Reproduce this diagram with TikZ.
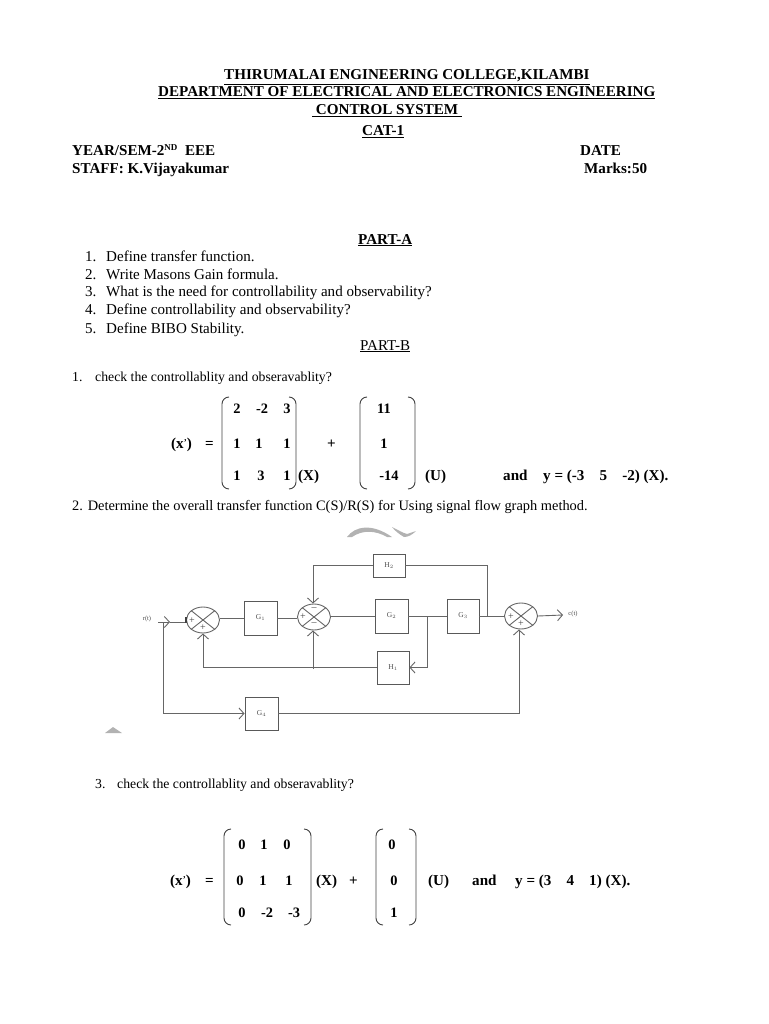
\documentclass[tikz,border=0pt]{standalone}
\usepackage{fontspec}
\setmainfont{Liberation Serif}
\usetikzlibrary{arrows.meta}
\usetikzlibrary{shapes.geometric}
\tikzset{
    head/.style={anchor=base west, inner sep=0pt, font=\fontsize{15.1}{17}\selectfont\bfseries},
    body/.style={anchor=base west, inner sep=0pt, font=\fontsize{15.05}{17}\selectfont},
    small/.style={anchor=base west, inner sep=0pt, font=\fontsize{13.75}{15}\selectfont},
    entry/.style={anchor=base, inner sep=0pt, font=\fontsize{14.4}{16}\selectfont\bfseries},
    bracket/.style={line width=0.9pt, black!75, rounded corners=7pt},
    block/.style={draw=black!65, line width=0.9pt, inner sep=0pt, font=\fontsize{7.5}{8}\selectfont, text=black!70},
    sumj/.style={ellipse, draw=black!60, line width=0.9pt, minimum width=33pt, minimum height=26pt, inner sep=0pt},
    sign/.style={inner sep=0pt, font=\fontsize{10}{10}\selectfont, text=black!75},
    wire/.style={draw=black!60, line width=0.9pt},
    into/.style={wire, -{Straight Barb[length=5pt,width=11pt]}},
    tiny/.style={inner sep=0pt, font=\fontsize{6.5}{7}\selectfont, text=black!70}
}

\begin{document}
\begin{tikzpicture}[x=1pt, y=-1pt]
        \useasboundingbox (0,0) rectangle (768,1024);

        % header
        \node[head] (title1) at (224,80) {\underline{THIRUMALAI ENGINEERING COLLEGE,KILAMBI}};
        \node[head] (title2) at (158,97) {\underline{DEPARTMENT OF ELECTRICAL AND ELECTRONICS ENGINEERING}};
        \node[head] (title3) at (312,115) {\underline{\ CONTROL SYSTEM\ }};
        \node[head] (title4) at (362,136) {\underline{CAT-1}};
        \node[head] (year) at (72,156) {YEAR/SEM-2\raisebox{5pt}{\fontsize{9}{9}\selectfont ND}\ \ EEE};
        \node[head] (staff) at (72,174) {STAFF: K.Vijayakumar};
        \node[head] (date) at (580,156) {DATE};
        \node[head] (marks) at (584,174) {Marks:50};

        % part a
        \node[head] (parta) at (358,244) {\underline{PART-A}};
        \foreach \ty/\num/\txt [count=\i] in {
            261/1./Define transfer function.,
            279/2./Write Masons Gain formula.,
            296/3./What is the need for controllability and observability?,
            314/4./Define controllability and observability?,
            333/5./Define BIBO Stability.}{
            \node[body] (num\i) at (85,\ty) {\num};
            \node[body] (item\i) at (106,\ty) {\txt};
        }

        % part b
        \node[body] (partb) at (360,350) {\underline{PART-B}};
        \node[small] (q1num) at (72,381) {1.};
        \node[small] (q1) at (95,381) {check the controllablity and obseravablity?};
        \node[body, font=\fontsize{14.4}{16}\selectfont] (q2) at (72,510) {2. Determine the overall transfer function C(S)/R(S) for Using signal flow graph method.};
        \node[small] (q3num) at (95,788) {3.};
        \node[small] (q3) at (117,788) {check the controllablity and obseravablity?};

        % matrices
        \foreach \px/\py/\txt [count=\i] in {
            237/413/2, 262/413/-2, 287/413/3, 237/448/1, 259/448/1, 287/448/1,
            237/480/1, 261/480/3, 287/480/1, 384/413/11, 384/448/1, 389/480/-14,
            242/849/0, 264/849/1, 287/849/0, 240/885/0, 263/885/1, 289/885/1,
            242/917/0, 267/917/-2, 294/917/-3, 392/849/0, 394/885/0, 394/917/1}{
            \node[entry] (m\i) at (\px,\py) {\txt};
        }
        \foreach \bx/\tp/\bt/\dir in {
            222/397/489/1, 296/397/489/-1, 360/397/489/1, 415/397/489/-1,
            224/829/925/1, 311/829/925/-1, 376/829/925/1, 416/829/925/-1}{
            \draw[bracket] ({\bx+\dir*7},\tp) -- (\bx,\tp) -- (\bx,\bt) -- ({\bx+\dir*7},\bt);
        }

        \node[head] (xa) at (171,448) {(x\raisebox{3pt}{\fontsize{9}{9}\selectfont '})};
        \node[head] (eqa) at (205,448) {=};
        \node[head] (plusa) at (327,448) {+};
        \node[head] (ua) at (298,480) {(X)};
        \node[head] (va) at (425,480) {(U)};
        \node[head] (anda) at (503,480) {and};
        \node[head] (ya) at (543,480) {y = (-3\ \ \ \ 5\ \ \ \ -2) (X).};
        \node[head] (xb) at (170,885) {(x\raisebox{3pt}{\fontsize{9}{9}\selectfont '})};
        \node[head] (eqb) at (205,885) {=};
        \node[head] (ub) at (316,885) {(X)};
        \node[head] (plusb) at (349,885) {+};
        \node[head] (vb) at (428,885) {(U)};
        \node[head] (andb) at (472,885) {and};
        \node[head] (yb) at (515,885) {y = (3\ \ \ \ 4\ \ \ \ 1) (X).};

        % block diagram
        \node[sumj] (S1) at (203,620) {};
        \node[sumj] (S2) at (314,617) {};
        \node[sumj] (S3) at (521,616) {};
        \node[block, minimum width=33pt, minimum height=34pt] (G1) at (260.5,618) {G$_1$};
        \node[block, minimum width=33pt, minimum height=34pt] (G2) at (391.5,616) {G$_2$};
        \node[block, minimum width=32pt, minimum height=34pt] (G3) at (463,616) {G$_3$};
        \node[block, minimum width=32pt, minimum height=23pt] (H2) at (389,565.5) {H$_2$};
        \node[block, minimum width=32pt, minimum height=33pt] (H1) at (393,667.5) {H$_1$};
        \node[block, minimum width=33pt, minimum height=33pt] (G4) at (261.5,713.5) {G$_4$};

        \foreach \s in {S1,S2,S3}{
            \draw[wire] (\s.north west) -- (\s.south east);
            \draw[wire] (\s.south west) -- (\s.north east);
        }
        \node[sign] (s1a) at (192,621) {+};
        \node[sign] (s1b) at (203,628) {+};
        \node[sign] (s2a) at (303,617) {+};
        \node[sign] (s2b) at (314,609) {--};
        \node[sign] (s2c) at (314,624) {--};
        \node[sign] (s3a) at (511,617) {+};
        \node[sign] (s3b) at (521,624) {+};

        \node[tiny] (rin) at (147,619) {r(t)};
        \node[tiny] (cout) at (573,614) {c(t)};

        \coordinate (start) at (158,622);
        \coordinate (split) at (163,622);
        \coordinate (stop) at (563,615);
        \coordinate (tapB) at (427,616);
        \coordinate (tapH) at (487,616);
        \coordinate (tapF) at (313,669);
        \coordinate (rise) at (519,640);

        \draw[into] (start) -- (170,622);
        \draw[wire] (170,622) -- (S1.west |- start);
        \draw[black!75, line width=2pt] (186,617) -- (186,623);
        \draw[wire] (S1.east |- G1) -- (G1.west);
        \draw[wire] (G1.east) -- (S2.west |- G1);
        \draw[wire] (S2.east |- G2) -- (G2.west);
        \draw[wire] (G2.east) -- (G3.west);
        \draw[wire] (G3.east) -- (S3.west);
        \draw[into] (S3.east) -- (stop);

        \draw[into] (H2.west) -| (S2.north -| tapF);
        \draw[wire] (H2.east) -| (tapH);
        \draw[into] (H1.west) -| (S1.south);
        \draw[into] (tapF) -- (S2.south -| tapF);
        \draw[into] (tapB) |- (H1.east);
        \draw[into] (split) |- (G4.west);
        \draw[wire] (G4.east) -| (rise);
        \draw[into] (rise) -- (S3.south -| rise);

        % stray marks
        \fill[black!30] (347,537) .. controls (355,526) and (372,523) .. (392,537) -- (387,537) .. controls (375,530) and (362,530) .. (352,537) -- cycle;
        \fill[black!30] (392,527) .. controls (398,530) and (403,533) .. (407,534) -- (416,531) .. controls (412,535) and (408,537) .. (404,537) .. controls (399,534) and (395,531) .. (392,527) -- cycle;
        \fill[black!30] (105,733) -- (113,727) -- (122,733) -- cycle;
    \end{tikzpicture}
\end{document}
